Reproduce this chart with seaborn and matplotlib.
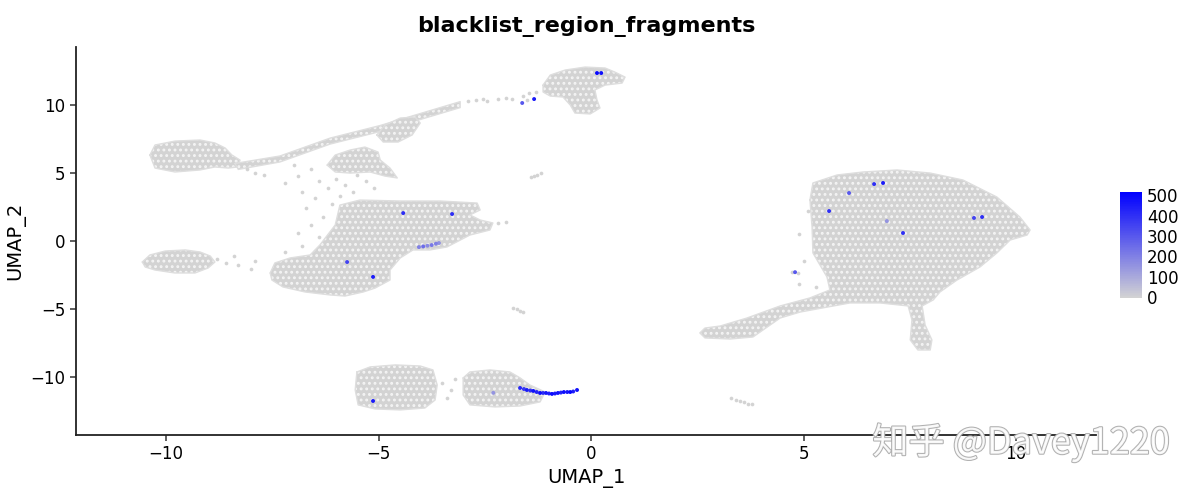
import numpy as np
import pandas as pd
import matplotlib
matplotlib.use("Agg")
import matplotlib.pyplot as plt
import matplotlib.patheffects as pe
from matplotlib.colors import LinearSegmentedColormap, Normalize
import seaborn as sns

# ------------------------------------------------------------
# cluster outlines (UMAP_1, UMAP_2)
# ------------------------------------------------------------
pill_top_x = [-10.38, -10.26, -9.79, -9.2, -8.85, -8.61, -8.45, -8.26, -8.31, -8.54, -8.85, -9.2, -9.79, -10.26]
pill_top_y = [6.34, 7.08, 7.37, 7.45, 7.23, 6.86, 6.34, 5.97, 5.46, 5.38, 5.46, 5.24, 5.09, 5.38]

streak_x = [-8.38, -7.32, -6.14, -4.96, -4.02, -3.08, -3.08, -4.02, -4.96, -6.14, -7.32, -8.3]
streak_y = [5.72, 6.27, 7.59, 8.52, 9.4, 10.28, 9.84, 8.96, 8.08, 7.15, 5.83, 5.28]

blob_a_x = [-5.04, -4.85, -4.49, -4.14, -4.02, -4.21, -4.54, -4.89]
blob_a_y = [7.82, 8.55, 9.07, 9.14, 8.7, 7.82, 7.3, 7.3]

blob_b_x = [-6.21, -6.02, -5.67, -5.32, -5.01, -4.96, -4.73, -4.56, -4.85, -5.2, -5.67, -6.02]
blob_b_y = [5.6, 6.34, 6.71, 6.93, 6.56, 5.97, 5.38, 4.65, 4.79, 5.09, 5.01, 5.09]

top_x = [-1.13, -0.96, -0.61, -0.14, 0.33, 0.56, 0.8, 0.73, 0.33, 0.09, 0.14, 0.21, -0.02, -0.38, -0.49, -0.66, -0.96, -1.13]
top_y = [11.5, 12.24, 12.61, 12.83, 12.76, 12.46, 12.09, 11.65, 11.5, 11.14, 10.4, 9.81, 9.37, 9.44, 10.03, 10.62, 10.69, 10.99]

mid_x = [-7.55, -7.44, -7.08, -6.61, -6.38, -6.02, -5.91, -5.44, -4.49, -3.55, -2.68, -2.61, -2.85,
         -2.61, -2.31, -2.38, -2.85, -3.39, -3.79, -4.19, -4.49, -4.73, -4.73, -5.08, -5.36, -5.79,
         -6.14, -6.73, -7.25, -7.51]
mid_y = [-2.36, -1.62, -1.25, -1.03, -0.29, 1.18, 2.65, 3.02, 2.95, 2.95, 2.8, 2.29, 1.92,
         1.55, 1.33, 0.81, 0.44, -0.44, -0.66, -0.66, -1.25, -2.14, -2.88, -3.47, -3.76, -4.06,
         -3.98, -3.76, -3.39, -2.88]

pill_low_x = [-10.56, -10.38, -10.02, -9.55, -9.2, -8.96, -8.85, -9.01, -9.32, -9.79, -10.26, -10.49]
pill_low_y = [-1.55, -1.03, -0.74, -0.66, -0.81, -1.11, -1.55, -1.99, -2.36, -2.36, -2.14, -1.92]

bot_left_x = [-5.51, -5.2, -4.61, -4.02, -3.72, -3.62, -3.67, -3.91, -4.49, -5.08, -5.48, -5.55]
bot_left_y = [-9.66, -9.29, -9.14, -9.22, -9.51, -10.62, -11.73, -12.32, -12.46, -12.39, -12.09, -10.99]

bot_mid_x = [-3.01, -2.85, -2.38, -1.91, -1.67, -1.44, -1.08, -1.2, -1.67, -2.26, -2.85, -3.01]
bot_mid_y = [-10.1, -9.66, -9.51, -9.66, -10.1, -10.62, -11.14, -11.87, -12.17, -12.24, -12.09, -11.36]

right_x = [5.15, 5.22, 5.79, 6.4, 7.2, 7.98, 8.75, 9.55, 10.09, 10.33, 10.26, 9.86, 9.55, 9.15, 8.61,
           8.21, 8.05, 7.79, 7.86, 8.02, 7.98, 7.69, 7.51, 7.55, 7.46, 6.8, 6.09, 4.92, 4.45, 3.81,
           3.27, 2.68, 2.56, 2.68, 3.04, 3.67, 4.45, 5.15, 5.62, 5.55, 5.22, 5.2]
right_y = [3.02, 4.28, 4.87, 5.09, 5.24, 5.01, 4.5, 3.24, 1.77, 0.81, 0.44, 0.07, -0.88, -1.92, -2.88,
           -3.76, -4.35, -4.79, -6.19, -7.3, -8.04, -8.04, -7.3, -5.83, -4.79, -4.57, -4.57, -5.24, -5.68, -7.08,
           -7.23, -7.15, -6.78, -6.42, -6.27, -5.68, -4.79, -4.2, -3.61, -2.65, -0.88, 1.03]

clusters = [(pill_top_x, pill_top_y), (streak_x, streak_y), (blob_a_x, blob_a_y), (blob_b_x, blob_b_y),
            (top_x, top_y), (mid_x, mid_y), (pill_low_x, pill_low_y), (bot_left_x, bot_left_y),
            (bot_mid_x, bot_mid_y), (right_x, right_y)]

# sparse low-count cells outside the dense clouds
sparse_x = [-8.1, -7.9, -7.7, -6.9, -6.6, -6.4, -6.2, -6.8, -6.0, -5.8, -5.6, -6.5, -6.1, -6.7, -5.3,
            -5.9, -6.3, -6.6, -6.9, -6.4, -6.8, -7.2, -5.1, -5.5, -7.2, -7.0,
            -8.8, -8.6, -8.3, -8.0, -7.9, -8.4,
            -2.9, -2.7, -2.55, -2.45, -2.2, -2.0, -1.85, -1.6, -1.45, -1.3, -1.5,
            -2.2, -2.0, -3.5, -3.3, -3.2, -3.4,
            4.9, 5.0, 4.9, 5.3, 5.1,
            -1.84, -1.75, -1.67, -1.6, -1.42, -1.35, -1.27, -1.18,
            3.3, 3.4, 3.5, 3.6, 3.7, 3.78, 4.72, 4.88]
sparse_y = [5.3, 5.0, 4.9, 4.8, 5.3, 4.4, 3.9, 3.6, 4.6, 4.1, 3.6, 3.2, 2.7, 2.4, 4.4,
            3.3, 1.8, 1.2, 0.6, 0.3, -0.4, -0.8, 3.9, 4.9, 4.3, 5.6,
            -1.3, -1.6, -1.8, -2.1, -1.5, -1.1,
            10.3, 10.4, 10.5, 10.35, 10.45, 10.55, 10.5, 10.7, 10.9, 11.0, 10.4,
            1.3, 1.4, -10.5, -11.0, -10.2, -11.6,
            0.5, -1.5, -3.2, -3.4, 2.2,
            -4.94, -5.05, -5.15, -5.22, 4.75, 4.82, 4.9, 4.98,
            -11.6, -11.7, -11.8, -11.9, -12.0, -12.05, -2.25, -2.35]

# cells with high blacklist fragment counts
hi_x = [0.14, 0.24, -1.34, -1.62, -4.42, -3.27, -5.74, -5.13,
        -4.05, -3.95, -3.85, -3.75, -3.65, -3.58,
        -1.67, -1.58, -1.51, -1.43, -1.36, -1.28, -1.2, -1.13, -1.06, -0.99, -0.92, -0.85, -0.78,
        -0.71, -0.64, -0.56, -0.49, -0.42, -0.33,
        -5.13, -2.3, 6.66, 6.87, 6.07, 5.6, 7.34, 9.01, 9.2, 6.96, 4.8]
hi_y = [12.39, 12.39, 10.47, 10.18, 2.06, 1.99, -1.55, -2.65,
        -0.45, -0.4, -0.35, -0.3, -0.2, -0.15,
        -10.84, -10.92, -10.99, -11.03, -11.06, -11.14, -11.21, -11.21, -11.21, -11.25, -11.28, -11.25, -11.21,
        -11.18, -11.14, -11.14, -11.14, -11.1, -10.99,
        -11.8, -11.2, 4.2, 4.28, 3.54, 2.21, 0.59, 1.7, 1.77, 1.47, -2.3]
hi_val = [500, 480, 450, 300, 400, 400, 350, 450,
          200, 250, 180, 220, 200, 160,
          420, 380, 450, 400, 470, 430, 480, 410, 460, 440, 490, 450, 470,
          430, 480, 460, 500, 440, 470,
          450, 150, 400, 450, 300, 400, 400, 350, 400, 150, 300]

# ------------------------------------------------------------
sns.set_theme(style="white")
plt.rcParams['font.family'] = ['DejaVu Sans']
plt.rcParams['hatch.linewidth'] = 1.3

cmap = LinearSegmentedColormap.from_list("feat", ["lightgrey", "blue"])
norm = Normalize(vmin=-5, vmax=516)

fig = plt.figure(figsize=(12, 5), dpi=100)
ax = fig.add_axes([0.0633, 0.13, 0.85, 0.776])

# dense clouds of zero-count cells: grey with a speckle texture
for cx, cy in clusters:
    ax.fill(cx, cy, facecolor="#d3d3d3", edgecolor="#f4f4f4", hatch="...", lw=0, zorder=1)
    ax.plot(cx + cx[:1], cy + cy[:1], color="#dedede", lw=1.0, zorder=1)

sparse = pd.DataFrame({"UMAP_1": sparse_x, "UMAP_2": sparse_y})
sns.scatterplot(data=sparse, x="UMAP_1", y="UMAP_2", color="lightgrey", s=7, linewidth=0, ax=ax, zorder=2)

hi = pd.DataFrame({"UMAP_1": hi_x, "UMAP_2": hi_y, "value": hi_val}).sort_values("value")
sns.scatterplot(data=hi, x="UMAP_1", y="UMAP_2", hue="value", palette=cmap, hue_norm=norm,
                s=8, linewidth=0, legend=False, ax=ax, zorder=3)

ax.set_xlim(-12.12, 11.88)
ax.set_ylim(-14.31, 14.31)
ax.set_xticks([-10, -5, 0, 5, 10])
ax.set_yticks([-10, -5, 0, 5, 10])
ax.set_xlabel("UMAP_1", fontsize=14, color="black")
ax.set_ylabel("UMAP_2", fontsize=14, color="black")
ax.set_title("blacklist_region_fragments", fontsize=16, fontweight="bold", pad=11, color="black")
for side in ["top", "right"]:
    ax.spines[side].set_visible(False)
for side in ["left", "bottom"]:
    ax.spines[side].set_color("#222222")
    ax.spines[side].set_linewidth(1.3)
ax.tick_params(axis="both", direction="out", length=4, width=1.1, color="#333333",
               labelsize=12, labelcolor="black", left=True, bottom=True)

# colour bar
cax = fig.add_axes([1120 / 1200, 1 - 298 / 500, 22 / 1200, 106 / 500])
sm = plt.cm.ScalarMappable(cmap=cmap, norm=norm)
cbar = fig.colorbar(sm, cax=cax, ticks=[0, 100, 200, 300, 400, 500])
cbar.outline.set_visible(False)
cbar.ax.tick_params(length=4, color="white", width=0.8, direction="in", labelsize=12, labelcolor="black")

# watermark
fig.text(0.727, 0.115, "知乎 @Davey1220", fontsize=26, color="white", va="center", ha="left",
         family=["Noto Sans CJK SC", "DejaVu Sans"], alpha=0.9,
         path_effects=[pe.withStroke(linewidth=1.5, foreground="#a8a8a8")])

fig.savefig("out.png", dpi=100)
